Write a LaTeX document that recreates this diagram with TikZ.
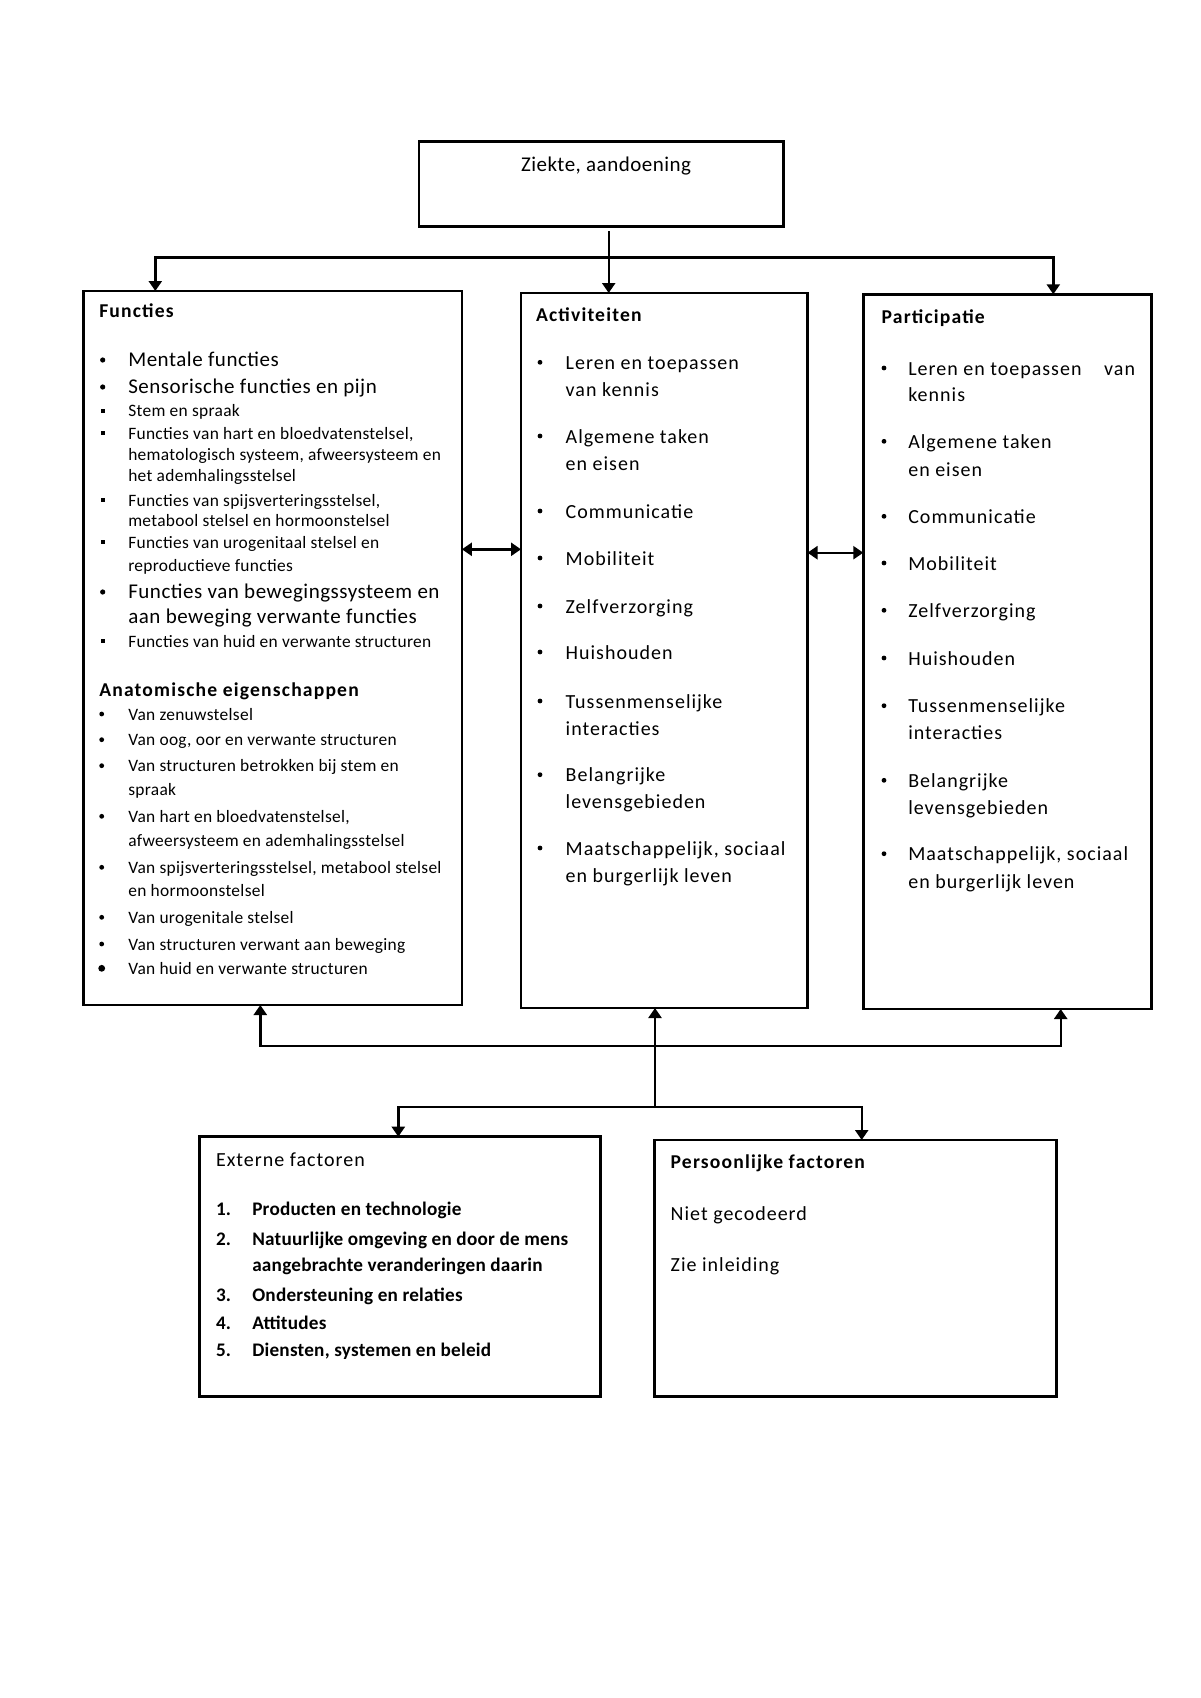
\documentclass[tikz,border=0pt]{standalone}
\usepackage{fontspec}
\setmainfont{Carlito}
\newfontfamily\csA{Carlito}[LetterSpace=5]
\newfontfamily\csH{Carlito}[LetterSpace=6]
\newfontfamily\csB{Carlito}[LetterSpace=2.5]
\newfontfamily\csS{Carlito}[LetterSpace=1.8]
\newfontfamily\csE{Carlito}[LetterSpace=1.2]
\newfontfamily\csZ{Carlito}[LetterSpace=2.3]
\usetikzlibrary{arrows.meta,calc}
\begin{document}
\begin{tikzpicture}[x=0.5pt,y=-0.5pt,
  box/.style={draw=black,line width=1.3pt,inner sep=0pt,outer sep=0pt,anchor=north west},
  conn/.style={line width=1.2pt,-{Triangle[length=5pt,width=6.5pt]}},
  dconn/.style={line width=1.2pt,{Triangle[length=5pt,width=6.5pt]}-{Triangle[length=5pt,width=6.5pt]}},
  txt/.style={anchor=base west,inner sep=0pt,outer sep=0pt},
  hd/.style={txt,font=\csH\fontsize{9.8}{12}\selectfont\bfseries},
  big/.style={txt,font=\csB\fontsize{10.5}{12}\selectfont},
  md/.style={txt,font=\csA\fontsize{10}{12}\selectfont},
  sm/.style={txt,font=\csS\fontsize{8.7}{10}\selectfont},
  bd/.style={txt,font=\csE\fontsize{9.6}{12}\selectfont\bfseries},
  dot/.style={fill=black},
]
\useasboundingbox (0,0) rectangle (1200,1698);

% boxes
\node[box,minimum width=182.2pt,minimum height=42.5pt] (zk) at (419,141.7) {};
\node[box,minimum width=189.3pt,minimum height=357pt] (fu) at (83.3,291) {};
\node[box,minimum width=143.25pt,minimum height=357.5pt] (ac) at (521,293) {};
\node[box,minimum width=144.2pt,minimum height=357.35pt] (pa) at (863.3,294.3) {};
\node[box,minimum width=200.7pt,minimum height=130pt] (ex) at (199.3,1136.7) {};
\node[box,minimum width=201.2pt,minimum height=128.35pt] (pe) at (654.3,1140) {};

% connectors
\coordinate (j1) at (608.7,257.3);
\draw[conn] ($(zk.south -| j1)+(0,4.5)$) -- (j1 |- ac.north);
\draw[conn] (j1) -| ($(fu.north west)+(72,0)$);
\draw[conn] (j1) -| ($(pa.north west)+(190,0)$);
\draw[dconn] ($(fu.north east)+(0,258.3)$) -- ($(ac.north west)+(0,256.3)$);
\draw[dconn] ($(ac.north east)+(0,259.7)$) -- ($(pa.north west)+(0,258.4)$);
\coordinate (j2) at (655,1045.7);
\coordinate (j3) at (655,1106.7);
\draw[conn] (j2) -| ($(fu.south west)+(177,0)$);
\draw[conn] (j2) -| ($(pa.south west)+(197.4,0)$);
\draw[conn] (j3) -- (j3 |- ac.south);
\draw[conn] (j3) -| ($(ex.north west)+(199,0)$);
\draw[conn] (j3) -| ($(pe.north west)+(207.4,0)$);

% Ziekte
\node[txt,anchor=base,font=\csZ\fontsize{10.5}{12}\selectfont] (zkt) at (606,171.7) {Ziekte, aandoening};

% Functies
\node[hd] (fuh) at (99.3,317) {Functies};
\node[big] (f1) at (128.3,366) {Mentale functies};
\node[big] (f2) at (128.3,393) {Sensorische functies en pijn};
\node[sm] (f3) at (128.3,416.7) {Stem en spraak};
\node[sm] (f4) at (128.3,439.3) {Functies van hart en bloedvatenstelsel,};
\node[sm] (f4b) at (128.3,460) {hematologisch systeem, afweersysteem en};
\node[sm] (f4c) at (128.3,481.7) {het ademhalingsstelsel};
\node[sm] (f5) at (128.3,506) {Functies van spijsverteringsstelsel,};
\node[sm] (f5b) at (128.3,526.7) {metabool stelsel en hormoonstelsel};
\node[sm] (f6) at (128.3,548.3) {Functies van urogenitaal stelsel en};
\node[sm] (f6b) at (128.3,571.7) {reproductieve functies};
\node[big] (f7) at (128.3,598) {Functies van bewegingssysteem en};
\node[big] (f7b) at (128.3,623.3) {aan beweging verwante functies};
\node[sm] (f8) at (128.3,647) {Functies van huid en verwante structuren};
\foreach \y in {366,393,598} \fill[dot] (102.7,\y-6) circle[radius=1.3pt];
\foreach \y in {416.7,439.3,506,548.3,647} \fill[dot] (100.7,\y-8) rectangle (104.7,\y-4);

\node[hd] (anh) at (99.3,696.7) {Anatomische eigenschappen};
\foreach \y/\t [count=\i] in {720/Van zenuwstelsel,745.7/{Van oog, oor en verwante structuren},771.7/Van structuren betrokken bij stem en,795/spraak,822.3/{Van hart en bloedvatenstelsel,},846.7/afweersysteem en ademhalingsstelsel,873.3/{Van spijsverteringsstelsel, metabool stelsel},896.7/en hormoonstelsel,923.3/Van urogenitale stelsel,950/Van structuren verwant aan beweging,974.3/Van huid en verwante structuren}
  \node[sm] (an\i) at (128.3,\y) {\t};
\foreach \y in {720,745.7,771.7,822.3,873.3,923.3,950} \fill[dot] (101.7,\y-6) circle[radius=1.2pt];
\fill[dot] (101.7,974.3-6) circle[radius=1.7pt];

% Activiteiten
\node[hd] (ach) at (536,321.7) {Activiteiten};
\foreach \y/\t [count=\i] in {369.3/Leren en toepassen,396.7/van kennis,443/Algemene taken,470.7/en eisen,518/Communicatie,565/Mobiliteit,613/Zelfverzorging,659/Huishouden,708/Tussenmenselijke,735/interacties,781.7/Belangrijke,808/levensgebieden,855/{Maatschappelijk, sociaal},882/en burgerlijk leven}
  \node[md] (ac\i) at (565.7,\y) {\t};
\foreach \y in {369.3,443,518,565,613,659,708,781.7,855} \fill[dot] (540,\y-7) circle[radius=1.2pt];

% Participatie
\node[hd] (pah) at (881.7,323.3) {Participatie};
\foreach \y/\t [count=\i] in {375/Leren en toepassen,401.7/kennis,448.3/Algemene taken,476/en eisen,523.3/Communicatie,570/Mobiliteit,617.3/Zelfverzorging,665/Huishouden,712.7/Tussenmenselijke,739/interacties,787.3/Belangrijke,814/levensgebieden,860.7/{Maatschappelijk, sociaal},888.3/en burgerlijk leven}
  \node[md] (pa\i) at (908.3,\y) {\t};
\node[md,anchor=base east] (pavan) at (1135,375) {van};
\foreach \y in {375,448.3,523.3,570,617.3,665,712.7,787.3,860.7} \fill[dot] (884,\y-7) circle[radius=1.2pt];

% Externe factoren
\node[md] (exh) at (216,1166) {Externe factoren};
\foreach \y/\n/\t [count=\i] in {1215/1./Producten en technologie,1245/2./Natuurlijke omgeving en door de mens,1271.7//aangebrachte veranderingen daarin,1301/3./Ondersteuning en relaties,1329/4./Attitudes,1356/5./{Diensten, systemen en beleid}}
  {\node[bd] (exn\i) at (216,\y) {\n};
   \node[bd] (ex\i) at (252.3,\y) {\t};}

% Persoonlijke factoren
\node[hd] (peh) at (670.7,1168.3) {Persoonlijke factoren};
\node[md] (pe1) at (670.7,1220.7) {Niet gecodeerd};
\node[md] (pe2) at (670.7,1271.7) {Zie inleiding};
\end{tikzpicture}
\end{document}
